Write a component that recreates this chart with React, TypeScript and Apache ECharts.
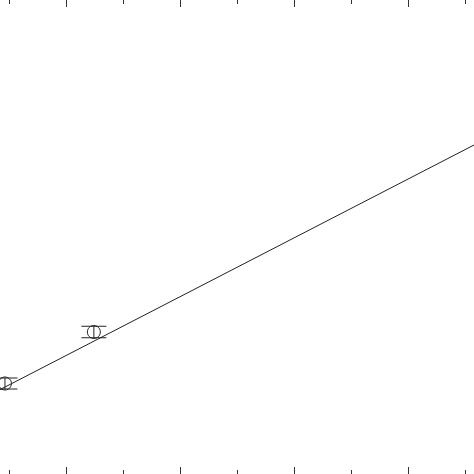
import React, { useEffect, useRef } from "react";
import * as echarts from "echarts";

// Measured points (x, y, symmetric error)
const pointX = [0.46, 1.24];
const pointY = [0.915, 1.43];
const pointErr = [0.055, 0.0575];

// Fitted straight line (two end points)
const lineX = [0.4, 5.0];
const lineY = [0.844, 3.55];

const X_MIN = 0;
const X_MAX = 5;
const X_INTERVAL = 1;
const Y_MIN = 0;
const Y_MAX = 4.76;

export default function App() {
  const ref = useRef<HTMLDivElement>(null);

  useEffect(() => {
    if (!ref.current) return;
    const chart = echarts.init(ref.current, undefined, { renderer: "svg" });
    const ink = "#333333";

    const xAxisBase = {
      type: "value" as const,
      min: X_MIN,
      max: X_MAX,
      interval: X_INTERVAL,
      axisLine: { show: false },
      axisLabel: { show: false },
      splitLine: { show: false },
      axisTick: { show: true, inside: true, length: 8, lineStyle: { color: ink, width: 1 } },
      minorTick: { show: true, splitNumber: 2, length: 5, lineStyle: { color: ink, width: 1 } },
      minorSplitLine: { show: false },
    };

    const errData = pointX.map((x, i) => [x, pointY[i], pointErr[i]]);
    const lineData = lineX.map((x, i) => [x, lineY[i]]);

    chart.setOption({
      animation: false,
      backgroundColor: "#ffffff",
      grid: {
        left: -47.5,
        right: -48.5,
        top: -1,
        bottom: -1,
        containLabel: false,
        outerBoundsMode: "none",
      },
      xAxis: [
        { ...xAxisBase, position: "bottom" },
        { ...xAxisBase, position: "top" },
      ],
      yAxis: { type: "value", min: Y_MIN, max: Y_MAX, show: false },
      series: [
        {
          type: "line",
          data: lineData,
          symbol: "none",
          lineStyle: { color: "#222222", width: 1 },
          silent: true,
        },
        {
          type: "custom",
          data: errData,
          clip: false,
          renderItem: (_params: any, api: any) => {
            const x = api.value(0);
            const y = api.value(1);
            const e = api.value(2);
            const c = api.coord([x, y]);
            const top = api.coord([x, y + e]);
            const bot = api.coord([x, y - e]);
            const hw = 12.5;
            const st = { stroke: "#222222", lineWidth: 1, fill: null };
            return {
              type: "group",
              children: [
                { type: "line", shape: { x1: c[0], y1: top[1], x2: c[0], y2: bot[1] }, style: st },
                { type: "line", shape: { x1: c[0] - hw, y1: top[1], x2: c[0] + hw, y2: top[1] }, style: st },
                { type: "line", shape: { x1: c[0] - hw, y1: bot[1], x2: c[0] + hw, y2: bot[1] }, style: st },
                { type: "circle", shape: { cx: c[0], cy: c[1], r: 6.5 }, style: { stroke: "#222222", lineWidth: 1, fill: "none" } },
              ],
            };
          },
        },
      ],
    });

    return () => chart.dispose();
  }, []);

  return (
    <div
      ref={ref}
      style={{ position: "absolute", left: 0, top: 0, width: 474, height: 474, background: "#fff" }}
    />
  );
}
